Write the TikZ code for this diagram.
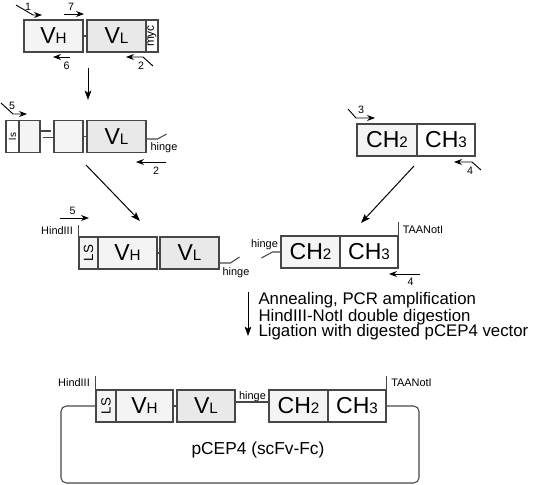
\documentclass[tikz,border=0pt]{standalone}
\usepackage{fontspec}
\setmainfont{Liberation Sans}
\usepackage{graphicx}
\usetikzlibrary{arrows.meta}
\definecolor{lc}{HTML}{474747}
\definecolor{fh}{HTML}{F4F4F4}
\definecolor{fl}{HTML}{E9E9E9}
\newcommand{\smx}[1]{{\fontsize{11.4}{12}\selectfont #1}}
\begin{document}
\begin{tikzpicture}[x=0.75pt,y=-0.75pt,line width=0.75pt,
  bx/.style={draw=lc, line width=0.8pt, inner sep=0pt, minimum height=24pt, minimum width=#1*0.75pt, font=\fontsize{17.3}{18}\selectfont},
  lab/.style={font=\fontsize{8.2}{9}\selectfont, inner sep=0pt},
  num/.style={font=\fontsize{8}{8}\selectfont, inner sep=0pt},
  proc/.style={font=\fontsize{12.6}{13}\selectfont, inner sep=0pt, anchor=base west},
  pr/.style={draw=black, line width=0.7pt, -{Stealth[length=6pt,width=4.5pt,inset=2pt]}},
  big/.style={draw=black, line width=0.75pt, -{Stealth[length=7pt,width=5pt,inset=1.5pt]}},
  ln/.style={draw=lc, line width=0.8pt}]
\useasboundingbox (0,0) rectangle (543,485);

% ---------- row 1 ----------
\node[bx=59, fill=fh] (vh1) at (53.5,36) {V\smx{H}};
\node[bx=59, fill=fl] (vl1) at (116.5,36) {V\smx{L}};
\node[bx=12, fill=white, font=\fontsize{9}{9}\selectfont] (myc1) at (152,36) {\rotatebox{90}{myc}};
\draw[ln] (vh1) -- (vl1);
\draw[pr] (16,5) -- (33,15) -- (42,15);
\node[num] (n1) at (28,6.5) {1};
\draw[pr] (64,14) -- (84,14);
\node[num] (n7) at (71,6.5) {7};
\draw[pr] (70,57) -- (53,57);
\node[num] (n6) at (66.5,66) {6};
\draw[pr] (153,66) -- (143,57) -- (126,57);
\node[num] (n2a) at (141,66) {2};

\coordinate (d1s) at (88,68);
\coordinate (d1e) at (88,100);
\draw[big] (d1s) -- (d1e);

% ---------- row 2 ----------
\node[bx=13, fill=white, font=\fontsize{7.5}{8}\selectfont] (ls2) at (12.5,136.5) {\rotatebox{90}{ls}};
\node[bx=21, fill=fh] (a2) at (29.5,136.5) {};
\node[bx=29, fill=fh] (b2) at (68.5,136.5) {};
\node[bx=59, fill=fl] (vl2) at (116.5,136.5) {V\smx{L}};
\draw[ln] ([yshift=4.1pt]a2.east) -- ++(10,0);
\draw[ln] ([xshift=2pt,yshift=-0.6pt]a2.east) -- ([yshift=-0.6pt]b2.west);
\draw[ln] (b2) -- (vl2);
\draw[ln] ([yshift=-1.9pt]vl2.east) -- ++(11,0) -- ++(9,-5);
\node[lab, anchor=base] (h2) at (164,151) {hinge};
\draw[pr] (1,103) -- (13,114) -- (27,114);
\node[num] (n5a) at (12,106) {5};
\draw[pr] (166,162) -- (136,162);
\node[num] (n2b) at (156,171) {2};

% ---------- right block ----------
\node[bx=60, fill=fh] (ch2r) at (387,140) {CH\smx{2}};
\node[bx=58, fill=white] (ch3r) at (446,140) {CH\smx{3}};
\draw[pr] (348,109) -- (356,118) -- (375,118);
\node[num] (n3) at (361,110) {3};
\draw[pr] (481,170) -- (472,162) -- (454,162);
\node[num] (n4a) at (470,171) {4};

\coordinate (d2s) at (86,165);
\coordinate (d2e) at (140,221);
\draw[big] (d2s) -- (d2e);
\coordinate (d3s) at (414,166);
\coordinate (d3e) at (361,223);
\draw[big] (d3s) -- (d3e);

% ---------- row 3 left ----------
\node[bx=19, fill=fh, font=\fontsize{10}{10}\selectfont] (ls3) at (88.5,253) {\rotatebox{90}{LS}};
\node[bx=59, fill=fh] (vh3) at (127.5,253) {V\smx{H}};
\node[bx=59, fill=fl] (vl3) at (189.5,253) {V\smx{L}};
\draw[ln] (vh3) -- (vl3);
\draw[ln] ([yshift=-7.5pt]vl3.east) -- ++(11,0) -- ++(9,-6);
\node[lab, anchor=base] (h3) at (236,275) {hinge};
\draw[ln] (ls3.north west) -- ++(0,-11);
\node[lab, anchor=base] (hd3) at (57,234) {HindIII};
\draw[pr] (60,218) -- (89,218);
\node[num] (n5b) at (72.5,211) {5};

% ---------- row 3 right ----------
\node[bx=59, fill=fh] (ch2b) at (310.5,252) {CH\smx{2}};
\node[bx=58, fill=white] (ch3b) at (369,252) {CH\smx{3}};
\draw[ln] (ch2b.west) -- ++(-8,0) -- ++(-11,6);
\node[lab, anchor=base] (h3r) at (264.5,247.5) {hinge};
\draw[ln] (ch3b.north east) -- ++(0,-13);
\node[lab, anchor=base] (ta3) at (423,233) {TAANotI};
\draw[pr] (420,274) -- (389,274);
\node[num] (n4b) at (410.5,281.5) {4};

% ---------- process ----------
\coordinate (d4s) at (248,292);
\coordinate (d4e) at (248,336);
\draw[big] (d4s) -- (d4e);
\node[proc] (p1) at (258,304.5) {Annealing, PCR amplification};
\node[proc] (p2) at (258,321) {HindIII-NotI double digestion};
\node[proc] (p3) at (258,336.5) {Ligation with digested pCEP4 vector};

% ---------- bottom construct ----------
\node[bx=20, fill=fh, font=\fontsize{10}{10}\selectfont] (ls5) at (106,406) {\rotatebox{90}{LS}};
\node[bx=57, fill=fh] (vh5) at (144.5,406) {V\smx{H}};
\node[bx=58, fill=fl] (vl5) at (206,406) {V\smx{L}};
\node[bx=59, fill=fh] (ch25) at (298.5,406) {CH\smx{2}};
\node[bx=58, fill=white] (ch35) at (357,406) {CH\smx{3}};
\draw[ln] (vh5) -- (vl5);
\draw[ln] ([yshift=3pt]vl5.east) -- ([yshift=3pt]ch25.west);
\node[lab, anchor=base] (h5) at (252.5,399.5) {hinge};
\draw[ln] (ls5.north west) -- ++(0,-13);
\node[lab, anchor=base] (hd5) at (74,386) {HindIII};
\draw[ln] (ch35.north east) -- ++(0,-13);
\node[lab, anchor=base] (ta5) at (411.5,386) {TAANotI};
\draw[ln, rounded corners=4pt] (ls5.west) -- (61,406) -- (61,483) -- (419,483) -- (419,406) -- (ch35.east);
\node[font=\fontsize{13}{14}\selectfont, inner sep=0pt] (pc) at (258,450) {pCEP4 (scFv-Fc)};
\end{tikzpicture}
\end{document}
